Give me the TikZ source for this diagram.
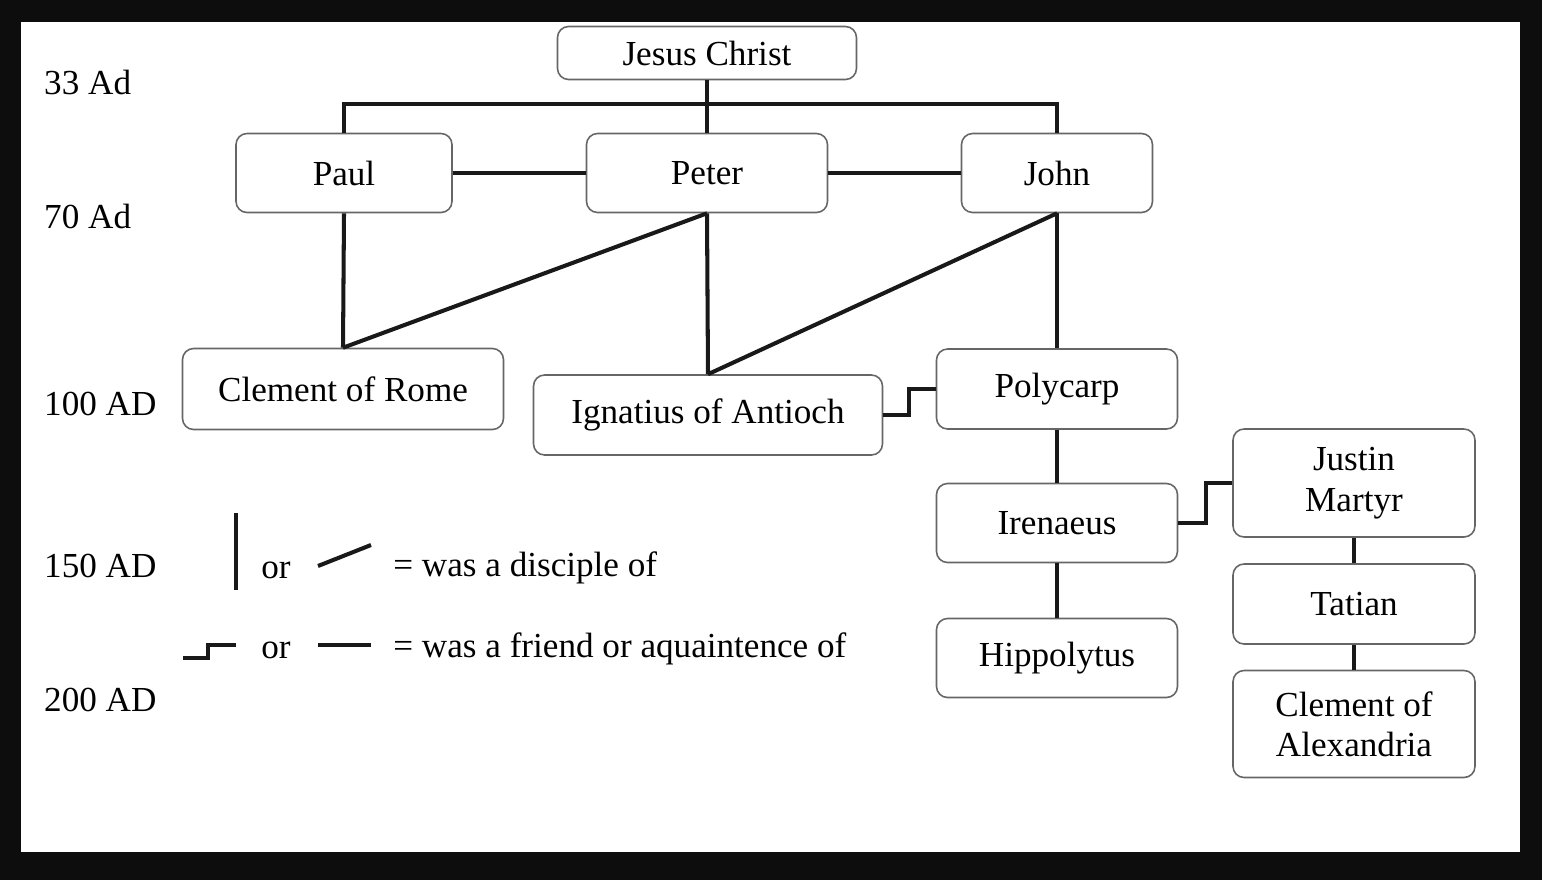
\documentclass[tikz,border=0pt]{standalone}
\usepackage{fontspec}
\setmainfont{Liberation Serif}
\usetikzlibrary{positioning,calc}
\tikzset{
  person/.style={draw=black!60,line width=.9pt,rounded corners=.22cm,fill=white,align=center,inner sep=0pt,font=\fontsize{20}{23}\selectfont},
  link/.style={line width=2.3pt,draw=black!90},
  era/.style={anchor=west,font=\fontsize{20}{22}\selectfont},
  note/.style={anchor=west,font=\fontsize{20}{22}\selectfont,inner sep=0pt}
}
\begin{document}
\begin{tikzpicture}[x=.02cm,y=-.02cm]
    % frame
    \fill[black!95] (0,0) rectangle (1542,880);
    \fill[white] (21,22) rectangle (1520,852);
    % time line
    \node[era] (t33) at (38,82) {33 Ad}; \node[era] (t70) at (38,216) {70 Ad};
    \node[era] (t100) at (38,404) {100 AD}; \node[era] (t150) at (38,566) {150 AD};
    \node[era] (t200) at (38,700) {200 AD};
    % people
    \node[person,minimum width=5.98cm,minimum height=1.06cm] (jc) at (707,53) {Jesus Christ};
    \node[person,minimum width=4.32cm,minimum height=1.58cm] (paul) at (344,173) {Paul};
    \node[person,minimum width=4.82cm,minimum height=1.58cm] (peter) at (707,173) {Peter};
    \node[person,minimum width=3.82cm,minimum height=1.58cm] (john) at (1057,173) {John};
    \node[person,minimum width=6.42cm,minimum height=1.62cm] (rome) at (343,389) {Clement of Rome};
    \node[person,minimum width=6.98cm,minimum height=1.6cm] (ign) at (708,415) {Ignatius of Antioch};
    \node[person,minimum width=4.82cm,minimum height=1.6cm] (poly) at (1057,389) {Polycarp};
    \node[person,minimum width=4.82cm,minimum height=1.58cm] (ire) at (1057,523) {Irenaeus};
    \node[person,minimum width=4.82cm,minimum height=1.58cm] (hip) at (1057,658) {Hippolytus};
    \node[person,minimum width=4.84cm,minimum height=2.16cm] (justin) at (1354,483) {Justin\\Martyr};
    \node[person,minimum width=4.84cm,minimum height=1.6cm] (tatian) at (1354,604) {Tatian};
    \node[person,minimum width=4.84cm,minimum height=2.14cm] (alex) at (1354,724) {Clement of\\Alexandria};
    % disciples
    \coordinate (bar) at (707,104);
    \draw[link] (jc.south) -- (peter.north);
    \draw[link] (paul.north) -- (paul.north |- bar) -- (john.north |- bar) -- (john.north);
    \draw[link] (paul.south) -- (rome.north);
    \draw[link] (peter.south) -- (rome.north);
    \draw[link] (peter.south) -- (ign.north);
    \draw[link] (john.south) -- (ign.north);
    \draw[link] (john.south) -- (poly.north);
    \draw[link] (poly.south) -- (ire.north);
    \draw[link] (ire.south) -- (hip.north);
    \draw[link] (justin.south) -- (tatian.north);
    \draw[link] (tatian.south) -- (alex.north);
    % friends
    \draw[link] (paul.east) -- (peter.west);
    \draw[link] (peter.east) -- (john.west);
    \draw[link] (ign.east) -- ++(26,0) |- (poly.west);
    \draw[link] (ire.east) -- ++(28,0) |- (justin.west);
    % key
    \draw[link] (236,513) -- (236,590);
    \node[note] (or1) at (261,570) {or};
    \draw[link] (318,566) -- (371,545);
    \node[note] (k1) at (393,568) {= was a disciple of};
    \draw[link] (183,658) -- (208,658) -- (208,645) -- (236,645);
    \node[note] (or2) at (261,650) {or};
    \draw[link] (318,645) -- (371,645);
    \node[note] (k2) at (393,649) {= was a friend or aquaintence of};
  \end{tikzpicture}
\end{document}
